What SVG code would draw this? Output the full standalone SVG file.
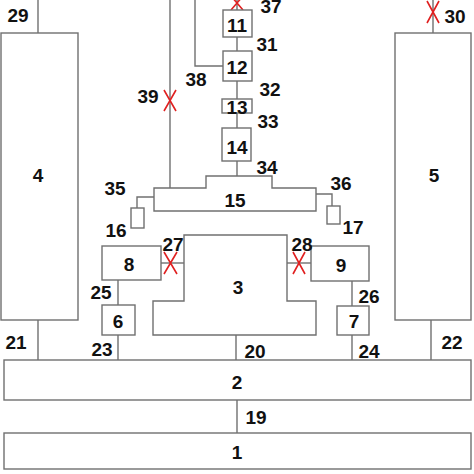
<svg xmlns="http://www.w3.org/2000/svg" width="474" height="474" viewBox="0 0 474 474">
<style>
.box{fill:#fff;stroke:#707070;stroke-width:1.4}
.ln{fill:none;stroke:#707070;stroke-width:1.4}
.x{fill:none;stroke:#e02020;stroke-width:1.6}
text{font-family:"Liberation Sans",Arial,sans-serif;font-weight:bold;font-size:19px;fill:#111;text-anchor:middle;dominant-baseline:central}
</style>
<rect width="474" height="474" fill="#fff"/>
<g id="connectors">
<path class="ln" d="M38,0V33"/>
<path class="ln" d="M433,0V33"/>
<path class="ln" d="M237,0V10"/>
<path class="ln" d="M170,0V188"/>
<path class="ln" d="M195,0V66H223"/>
<path class="ln" d="M237,37V51"/>
<path class="ln" d="M237,81V99"/>
<path class="ln" d="M237,113V128"/>
<path class="ln" d="M237,161V176"/>
<path class="ln" d="M154,197H137V208"/>
<path class="ln" d="M316,194H332V206"/>
<path class="ln" d="M161,263H184"/>
<path class="ln" d="M287,263H311"/>
<path class="ln" d="M118,280V305"/>
<path class="ln" d="M118,335V360"/>
<path class="ln" d="M352,281V306"/>
<path class="ln" d="M352,335V360"/>
<path class="ln" d="M38,320V360"/>
<path class="ln" d="M431,320V360"/>
<path class="ln" d="M236,335V360"/>
<path class="ln" d="M237,400V433"/>
<path class="x" d="M231,10L243,-4M243,10L231,-4"/>
<path class="x" d="M427,1L439,23M439,1L427,23"/>
<path class="x" d="M164,90L176,111M176,90L164,111"/>
<path class="x" d="M164,252L177,274M177,252L164,274"/>
<path class="x" d="M293,252L305,274M305,252L293,274"/>
</g>
<g id="n1"><rect class="box" x="4" y="433" width="467" height="36"/><text x="237" y="452">1</text></g>
<g id="n2"><rect class="box" x="4" y="360" width="467" height="40"/><text x="237" y="382">2</text></g>
<g id="n3"><path class="box" d="M184,235H287V301H316V335H153V301H184Z"/><text x="238" y="287">3</text></g>
<g id="n4"><rect class="box" x="1" y="33" width="77" height="287"/><text x="38" y="175">4</text></g>
<g id="n5"><rect class="box" x="395" y="33" width="76" height="287"/><text x="434" y="175">5</text></g>
<g id="n6"><rect class="box" x="102" y="305" width="33" height="30"/><text x="118" y="321">6</text></g>
<g id="n7"><rect class="box" x="337" y="306" width="32" height="29"/><text x="354" y="321">7</text></g>
<g id="n8"><rect class="box" x="102" y="246" width="59" height="34"/><text x="129" y="264">8</text></g>
<g id="n9"><rect class="box" x="311" y="246" width="58" height="35"/><text x="341" y="265">9</text></g>
<g id="n11"><rect class="box" x="223" y="10" width="29" height="27"/><text x="237" y="25">11</text></g>
<g id="n12"><rect class="box" x="223" y="51" width="29" height="30"/><text x="237" y="67">12</text></g>
<g id="n13"><rect class="box" x="222" y="99" width="30" height="14"/><text x="237" y="107">13</text></g>
<g id="n14"><rect class="box" x="222" y="128" width="29" height="33"/><text x="237" y="147">14</text></g>
<g id="n15"><path class="box" d="M154,188H206V176H272V188H316V211H154Z"/><text x="235" y="200">15</text></g>
<g id="n16"><rect class="box" x="131" y="208" width="13" height="20"/></g>
<g id="n17"><rect class="box" x="327" y="206" width="13" height="18"/></g>
<g id="labels">
<text x="18" y="15">29</text>
<text x="455" y="16">30</text>
<text x="271" y="6">37</text>
<text x="267" y="44">31</text>
<text x="196" y="79">38</text>
<text x="270" y="89">32</text>
<text x="148" y="96">39</text>
<text x="268" y="121">33</text>
<text x="267" y="167">34</text>
<text x="115" y="188">35</text>
<text x="341" y="183">36</text>
<text x="116" y="230">16</text>
<text x="353" y="227">17</text>
<text x="173" y="244">27</text>
<text x="302" y="244">28</text>
<text x="101" y="292">25</text>
<text x="369" y="296">26</text>
<text x="16" y="342">21</text>
<text x="452" y="342">22</text>
<text x="102" y="349">23</text>
<text x="255" y="351">20</text>
<text x="369" y="351">24</text>
<text x="256" y="417">19</text>
</g>
</svg>
